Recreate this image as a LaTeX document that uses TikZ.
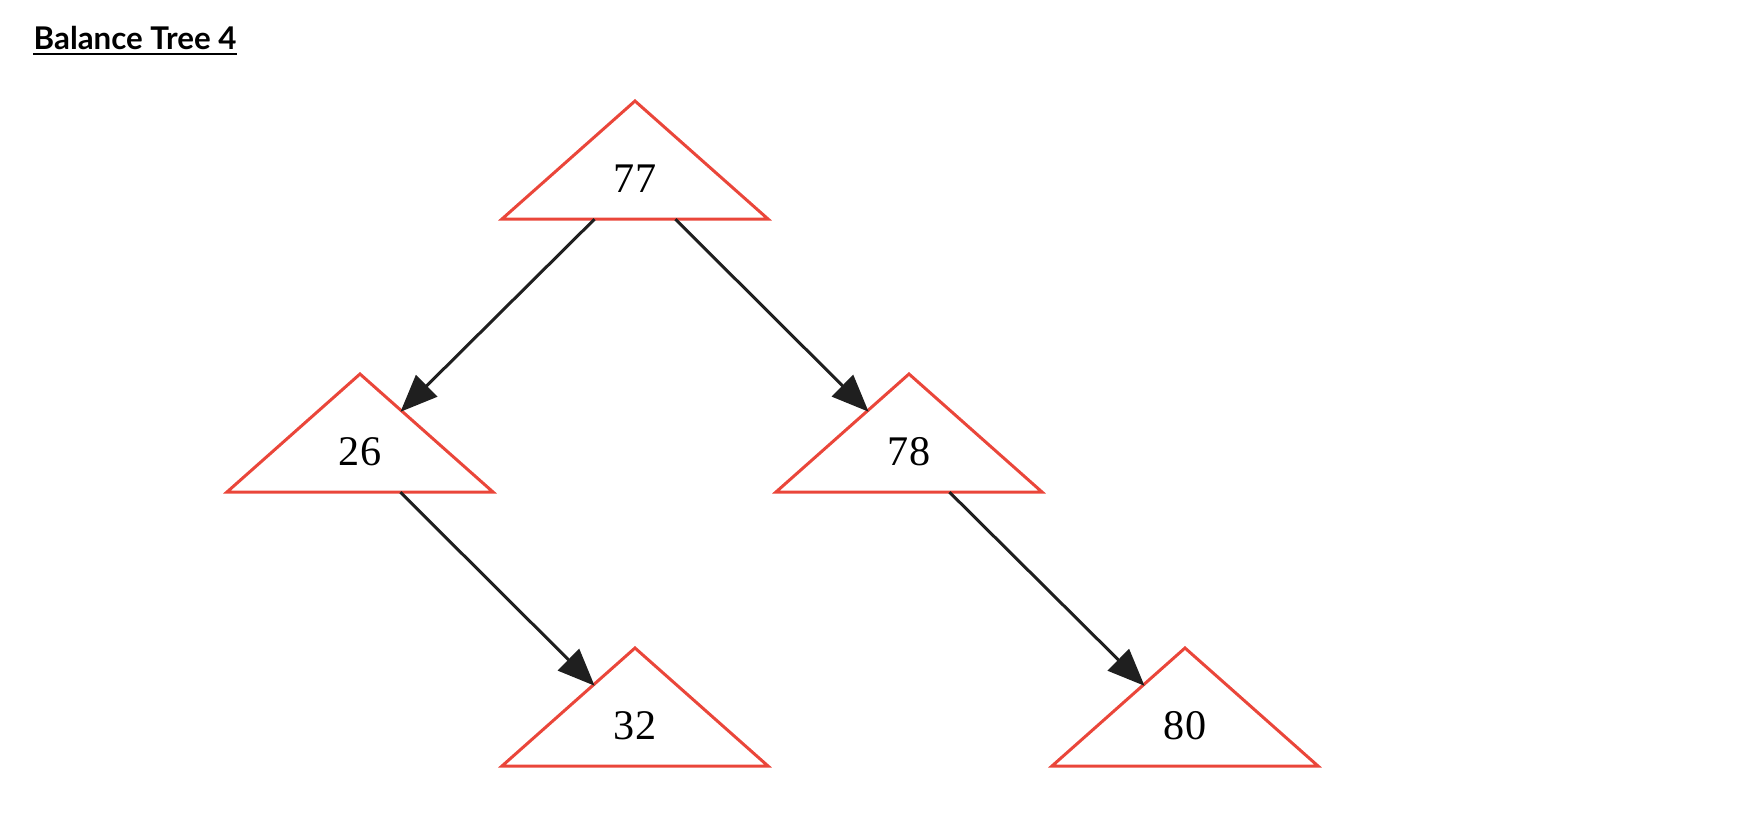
\documentclass[tikz,border=0pt]{standalone}
\usepackage{fontspec}
\setmainfont{Liberation Serif}
\newfontfamily\titlefont{Lato}
\usetikzlibrary{arrows.meta,calc}
\definecolor{trired}{RGB}{234,70,58}
\tikzset{treenode/.style={shape=circle,minimum size=1.14cm,inner sep=0pt,outer sep=0pt,font=\fontsize{12}{14}\selectfont},
  treeedge/.style={draw=black!88,line width=0.03cm,-{Triangle[length=0.37cm,width=0.3cm]}},
  tri/.style={draw=trired,line width=0.03cm}}

\begin{document}
\begin{tikzpicture}[x=0.01cm,y=-0.01cm]
      \useasboundingbox (0,0) rectangle (1754,824);
      \node[anchor=base west,inner sep=0pt,font=\titlefont\bfseries\fontsize{8.9}{11}\selectfont] (title) at (33,49) {Balance Tree 4};
      \draw[line width=0.028cm] ($(title.base west)+(0,5)$) -- ($(title.base east)+(0,5)$);

      \node[treenode] (n77) at (635,179) {77};
      \node[treenode] (n26) at (360,452) {26};
      \node[treenode] (n78) at (909,452) {78};
      \node[treenode] (n32) at (635,726) {32};
      \node[treenode] (n80) at (1185,726) {80};

\foreach \n in {n77,n26,n78,n32,n80}
  \draw[tri] ($(\n)+(0,-78)$) -- ($(\n)+(133,40)$) -- ($(\n)+(-133,40)$) -- cycle;

\draw[treeedge] (n77) -- (n26);
\draw[treeedge] (n77) -- (n78);
\draw[treeedge] (n26) -- (n32);
\draw[treeedge] (n78) -- (n80);
    \end{tikzpicture}
\end{document}
